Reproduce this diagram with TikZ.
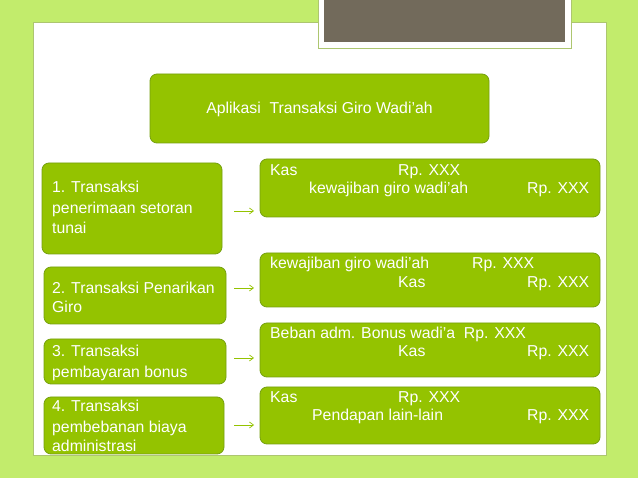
\documentclass[tikz,border=0pt]{standalone}
\usepackage{fontspec}
\setmainfont{Liberation Sans}
\usetikzlibrary{arrows.meta}
\definecolor{bg}{HTML}{C2EC6C}
\definecolor{gb}{HTML}{94C300}
\definecolor{gbd}{HTML}{76A010}
\definecolor{gray}{HTML}{726A5B}
\begin{document}
\begin{tikzpicture}[x=1pt,y=-1pt,
  gbox/.style={draw=gbd,fill=gb,rounded corners=7pt,line width=0.8pt},
  txt/.style={text=white,font=\fontsize{15.8}{18}\selectfont,anchor=base west,inner sep=0pt},
  arr/.style={-{Straight Barb[length=4pt,width=6pt]},draw=gb,line width=0.7pt}]
\useasboundingbox (0,0) rectangle (638,478);
\fill[bg] (0,0) rectangle (638,478);
\draw[draw=gbd!60,fill=white,line width=0.8pt] (33,22) rectangle (606,455);
\draw[draw=gbd!60,fill=white,line width=0.8pt] (318,-2) rectangle (571,48);
\fill[gray] (324,-2) rectangle (565,42);
% title
\draw[gbox] (150,74) rectangle (489,143);
\node[txt,anchor=center] (title) at (319.5,109) {Aplikasi\ \ Transaksi Giro Wadi’ah};
% left boxes
\draw[gbox] (42,163) rectangle (222,254);
\draw[gbox] (44,267) rectangle (226,324);
\draw[gbox] (44,339) rectangle (226,384);
\draw[gbox] (44,397) rectangle (224,454);
\node[txt] (t1a) at (52,193) {1. Transaksi};
\node[txt] (t1b) at (52,214) {penerimaan setoran};
\node[txt] (t1c) at (52,234) {tunai};
\node[txt] (t2a) at (52,294) {2. Transaksi Penarikan};
\node[txt] (t2b) at (52,313) {Giro};
\node[txt] (t3a) at (52,357) {3. Transaksi};
\node[txt] (t3b) at (52,378) {pembayaran bonus};
\node[txt] (t4a) at (52,412) {4. Transaksi};
\node[txt] (t4b) at (52,433) {pembebanan biaya};
\node[txt] (t4c) at (52,452) {administrasi};
% right boxes
\draw[gbox] (260,159) rectangle (600,217);
\draw[gbox] (260,253) rectangle (600,307);
\draw[gbox] (260,323) rectangle (600,377);
\draw[gbox] (260,387) rectangle (600,444);
\node[txt] (r1a) at (270,176) {Kas};
\node[txt] (r1b) at (398,176) {Rp. XXX};
\node[txt] (r1c) at (309,194) {kewajiban giro wadi’ah};
\node[txt] (r1d) at (527,194) {Rp. XXX};
\node[txt] (r2a) at (270,269) {kewajiban giro wadi’ah};
\node[txt] (r2b) at (472,269) {Rp. XXX};
\node[txt] (r2c) at (398,288) {Kas};
\node[txt] (r2d) at (527,288) {Rp. XXX};
\node[txt] (r3a) at (270,339) {Beban adm. Bonus wadi’a\ \ Rp. XXX};
\node[txt] (r3c) at (398,357) {Kas};
\node[txt] (r3d) at (527,357) {Rp. XXX};
\node[txt] (r4a) at (270,403) {Kas};
\node[txt] (r4b) at (398,403) {Rp. XXX};
\node[txt] (r4c) at (312,421) {Pendapan lain-lain};
\node[txt] (r4d) at (527,421) {Rp. XXX};
% arrows
\coordinate (a1s) at (234,211); \coordinate (a1e) at (254,211);
\coordinate (a2s) at (234,288); \coordinate (a2e) at (254,288);
\coordinate (a3s) at (234,358); \coordinate (a3e) at (254,358);
\coordinate (a4s) at (234,425); \coordinate (a4e) at (254,425);
\draw[arr] (a1s) -- (a1e);
\draw[arr] (a2s) -- (a2e);
\draw[arr] (a3s) -- (a3e);
\draw[arr] (a4s) -- (a4e);
\end{tikzpicture}
\end{document}
